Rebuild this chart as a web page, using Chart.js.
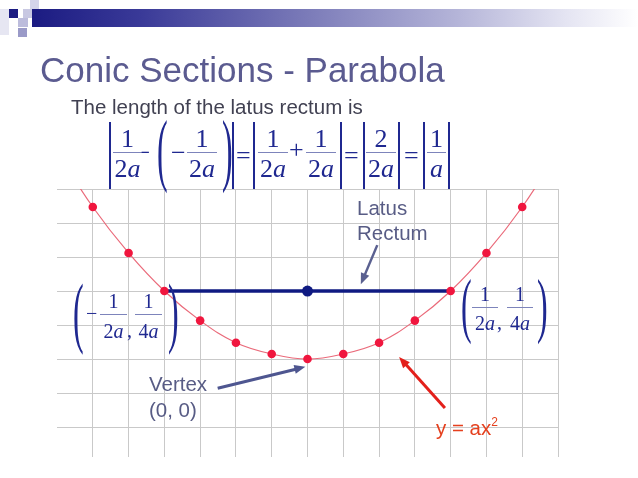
<!DOCTYPE html>
<html>
<head>
<meta charset="utf-8">
<script src="https://cdn.jsdelivr.net/npm/chart.js@4"></script>
<style>
  html, body { margin: 0; padding: 0; background: #fff; }
  body { width: 638px; height: 478px; overflow: hidden; position: relative; }
  #chart { position: absolute; left: 0; top: 0; }
  .blk { position: absolute; }
</style>
</head>
<body>
<canvas id="chart" width="638" height="478"></canvas>
<div class="blk" style="left:32px;top:9px;width:606px;height:18px;background:linear-gradient(to right,#1b1b82 0%,#3a3a98 18%,#7a7ab8 45%,#b4b4d8 70%,#e4e4f2 88%,#ffffff 100%)"></div>
<div class="blk" style="left:0;top:9px;width:9px;height:26px;background:#e6e6f2"></div>
<div class="blk" style="left:9px;top:9px;width:9px;height:9px;background:#1b1b82"></div>
<div class="blk" style="left:30px;top:0;width:9px;height:9px;background:#d4d4ea"></div>
<div class="blk" style="left:23px;top:9px;width:9px;height:9px;background:#c8c8e2"></div>
<div class="blk" style="left:18px;top:18px;width:10px;height:9px;background:#bcbcdc"></div>
<div class="blk" style="left:18px;top:28px;width:9px;height:9px;background:#9a9ac8"></div>

<script>
// parabola y = a x^2 (one column / one row per unit)
var curveX = [-7, -6, -5, -4, -3, -2, -1, 0, 1, 2, 3, 4, 5, 6, 7];
var curveY = [6.1, 4.47, 3.12, 2, 1.13, 0.48, 0.15, 0, 0.15, 0.48, 1.13, 2, 3.12, 4.47, 6.1];
// latus rectum end points and the focus
var latusX = [-4, 4];
var latusY = [2, 2];
var focusX = [0];
var focusY = [2];

var NAVY = '#0f1a82';
var MATH = '#1f2890';
var SERIF = '"Liberation Serif", "Times New Roman", serif';
var SANS = '"Liberation Sans", Arial, sans-serif';

// annotation arrows, in grid units
var arrows = [
  { from: [1.95, 3.35], to: [1.49, 2.2], color: '#5a6090', width: 2.5 },
  { from: [3.84, -1.44], to: [2.56, 0.06], color: '#e3201b', width: 3 },
  { from: [-2.51, -0.86], to: [-0.06, -0.23], color: '#4e5690', width: 3 }
];

function pts(xs, ys) {
  return xs.map((x, i) => ({ x: x, y: ys[i] }));
}

var arrowPlugin = {
  id: 'arrows',
  afterDatasetsDraw(chart) {
    var c = chart.ctx, sx = chart.scales.x, sy = chart.scales.y;
    arrows.forEach(a => {
      var x1 = sx.getPixelForValue(a.from[0]), y1 = sy.getPixelForValue(a.from[1]);
      var x2 = sx.getPixelForValue(a.to[0]), y2 = sy.getPixelForValue(a.to[1]);
      var ang = Math.atan2(y2 - y1, x2 - x1);
      var hl = 11, hw = 4.5;
      c.save();
      c.strokeStyle = a.color;
      c.fillStyle = a.color;
      c.lineWidth = a.width;
      c.beginPath();
      c.moveTo(x1, y1);
      c.lineTo(x2 - Math.cos(ang) * hl * 0.8, y2 - Math.sin(ang) * hl * 0.8);
      c.stroke();
      c.beginPath();
      c.moveTo(x2, y2);
      c.lineTo(x2 - Math.cos(ang) * hl - Math.sin(ang) * hw, y2 - Math.sin(ang) * hl + Math.cos(ang) * hw);
      c.lineTo(x2 - Math.cos(ang) * hl + Math.sin(ang) * hw, y2 - Math.sin(ang) * hl - Math.cos(ang) * hw);
      c.closePath();
      c.fill();
      c.restore();
    });
  }
};

var GRID = '#c9c9c9';
new Chart(document.getElementById('chart'), {
  type: 'scatter',
  data: {
    datasets: [
      { data: pts(focusX, focusY), pointRadius: 5.5, backgroundColor: NAVY, borderWidth: 0, order: 0 },
      { data: pts(curveX, curveY), showLine: true, tension: 0.4,
        borderColor: '#ea6a7a', borderWidth: 1.2,
        pointRadius: ctx => (ctx.dataIndex === 0 || ctx.dataIndex === curveX.length - 1) ? 0 : 4.3,
        pointBackgroundColor: '#f0163e', pointBorderWidth: 0, order: 1 },
      { data: pts(latusX, latusY), showLine: true, borderColor: NAVY, borderWidth: 3.5,
        pointRadius: 0, order: 2 }
    ]
  },
  options: {
    responsive: false,
    animation: false,
    layout: { padding: { left: 57, right: 80, top: 189, bottom: 21 } },
    plugins: { legend: { display: false }, tooltip: { enabled: false } },
    scales: {
      x: { type: 'linear', min: -7, max: 7,
           ticks: { display: false, stepSize: 1 },
           grid: { color: c => c.tick.value === -7 ? 'rgba(0,0,0,0)' : GRID, drawTicks: false, lineWidth: 1 },
           border: { display: false } },
      y: { type: 'linear', min: -2.88, max: 5,
           ticks: { display: false, stepSize: 1 },
           grid: { color: c => Number.isInteger(c.tick.value) ? GRID : 'rgba(0,0,0,0)', drawTicks: false, lineWidth: 1 },
           border: { display: false } }
    }
  },
  plugins: [arrowPlugin]
});

// ---- text ----
function put(html, x, base, size, family, color, extra) {
  var s = document.createElement('div');
  s.innerHTML = html;
  var k = family === SERIF ? 0.8375 : 0.8465;
  s.style.cssText = 'position:absolute;left:' + x + 'px;top:' + (base - size * k) + 'px;font-size:' + size +
    'px;font-family:' + family + ';line-height:1;color:' + color + ';white-space:pre;' + (extra || '');
  document.body.appendChild(s);
  return s;
}
function vbar(x, top, h) {
  var d = document.createElement('div');
  d.style.cssText = 'position:absolute;left:' + x + 'px;top:' + top + 'px;width:2.2px;height:' + h + 'px;background:' + MATH;
  document.body.appendChild(d);
}
function frac(num, den, x, w, bar, size, nOff, dOff) {
  var d = document.createElement('div');
  d.style.cssText = 'position:absolute;left:' + x + 'px;top:' + bar + 'px;width:' + w + 'px;height:1px;background:#7d84bb';
  document.body.appendChild(d);
  put(num, x, bar - nOff, size, SERIF, MATH, 'width:' + w + 'px;text-align:center');
  put(den, x, bar + dOff, size, SERIF, MATH, 'width:' + w + 'px;text-align:center');
}
function paren(ch, x, top, h) {
  var S = 32, k = h / (0.855 * S);
  var s = document.createElement('div');
  s.textContent = ch;
  s.style.cssText = 'position:absolute;left:' + x + 'px;top:' + (top - 0.1615 * S * k) + 'px;font-size:' + S +
    'px;font-family:' + SERIF + ';line-height:1;color:' + MATH + ';transform:scaleY(' + k + ');transform-origin:0 0';
  document.body.appendChild(s);
}

put('Conic Sections - Parabola', 40, 82, 35, SANS, '#5b5b90');
put('The length of the latus rectum is', 71, 114, 20.5, SANS, '#414152');

// |1/2a - (-1/2a)| = |1/2a + 1/2a| = |2/2a| = |1/a|
var A = '<i>a</i>';
[109, 232, 253, 340, 363, 398, 423, 448].forEach(x => vbar(x, 122, 67));
frac('1', '2' + A, 113, 29, 152, 26, 4, 26);
put('\u2212', 140.5, 162, 26, SERIF, MATH, 'transform:scaleX(0.6);transform-origin:0 0');
paren('(', 157, 122, 68);
put('\u2212', 171, 162, 26, SERIF, MATH);
frac('1', '2' + A, 187, 30, 152, 26, 4, 26);
paren(')', 222, 122, 68);
put('=', 236, 164.5, 26, SERIF, MATH);
frac('1', '2' + A, 258, 30, 152, 26, 4, 26);
put('+', 289, 159, 26, SERIF, MATH);
frac('1', '2' + A, 306, 30, 152, 26, 4, 26);
put('=', 344, 164.5, 26, SERIF, MATH);
frac('2', '2' + A, 366, 30, 152, 26, 4, 26);
put('=', 404, 164.5, 26, SERIF, MATH);
frac('1', A, 427, 19, 152, 26, 4, 26);

// (-1/2a, 1/4a)
paren('(', 73, 285, 67);
put('\u2212', 86, 320, 20, SERIF, MATH);
frac('1', '2' + A, 100, 27, 314, 20, 6, 24);
put(',', 127, 337, 20, SERIF, MATH);
frac('1', '4' + A, 135, 27, 314, 20, 6, 24);
paren(')', 168, 285, 67);

// (1/2a, 1/4a)
paren('(', 461, 280, 62);
frac('1', '2' + A, 472, 26, 307, 20, 6, 23);
put(',', 497, 329, 20, SERIF, MATH);
frac('1', '4' + A, 507, 26, 307, 20, 6, 23);
paren(')', 537, 280, 62);

put('Latus', 357, 215, 20.5, SANS, '#585c85');
put('Rectum', 357, 240.5, 20.5, SANS, '#585c85');
put('Vertex', 149, 391.5, 20.5, SANS, '#585c85');
put('(0, 0)', 149, 417, 20.5, SANS, '#585c85');
put('y = ax<span style="font-size:12px;position:relative;top:-9px">2</span>', 436, 435, 20.5, SANS, '#e5401e');
</script>
</body>
</html>
